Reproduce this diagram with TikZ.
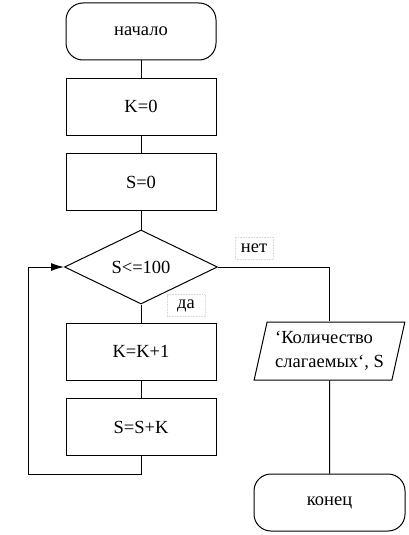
\documentclass[tikz,border=0pt]{standalone}
\usepackage{fontspec}
\setmainfont{Liberation Serif}
\usetikzlibrary{shapes.geometric,arrows.meta}
\begin{document}
\begin{tikzpicture}[x=1pt,y=-1pt,
  every node/.style={font=\fontsize{18.5}{23.5}\selectfont},
  line/.style={draw=black,line width=1pt},
  term/.style={line,rectangle,rounded corners=17pt,minimum width=150pt,minimum height=57pt,inner sep=0pt},
  proc/.style={line,rectangle,minimum width=150pt,minimum height=57pt,inner sep=0pt},
  decis/.style={line,diamond,minimum width=153pt,minimum height=74pt,inner sep=0pt},
  io/.style={line,trapezium,trapezium left angle=73.7,trapezium right angle=106.3,trapezium stretches=true,minimum width=151pt,minimum height=58pt,inner sep=0pt,align=left},
  lbl/.style={draw=black!15,densely dotted,line width=0.6pt,minimum width=38pt,minimum height=22pt,inner sep=0pt},
  conn/.style={line}
]
\useasboundingbox (0,0) rectangle (409,535);
\node[term] (start) at (141,31.5) {начало};
\node[proc] (k0) at (141,106.5) {K=0};
\node[proc] (s0) at (141,182) {S=0};
\node[decis] (cond) at (141,267) {S<=100};
\node[proc] (k1) at (141,351.5) {K=K+1};
\node[proc] (s2) at (141,427) {S=S+K};
\node[io] (out) at (329.5,351) {‘Количество\\слагаемых‘, S};
\node[term,minimum width=151pt] (end) at (329.5,502.5) {конец};
\node[lbl] (no) at (254,248) {нет};
\node[lbl] (yes) at (186,305.5) {да};
\coordinate (la) at (141,474);
\coordinate (lb) at (28,474);
\coordinate (lc) at (28,267);
\draw[conn] (start) -- (k0);
\draw[conn] (k0) -- (s0);
\draw[conn] (s0) -- (cond.north);
\draw[conn] (cond.south) -- (k1.north);
\draw[conn] (k1) -- (s2);
\draw[conn,-{Latex[length=13pt,width=8pt]}] (s2.south) -- (la) -- (lb) -- (lc) -- (cond.west);
\draw[conn] (cond.east) -| (out.north);
\draw[conn] (out.south) -- (end.north);
\end{tikzpicture}
\end{document}
